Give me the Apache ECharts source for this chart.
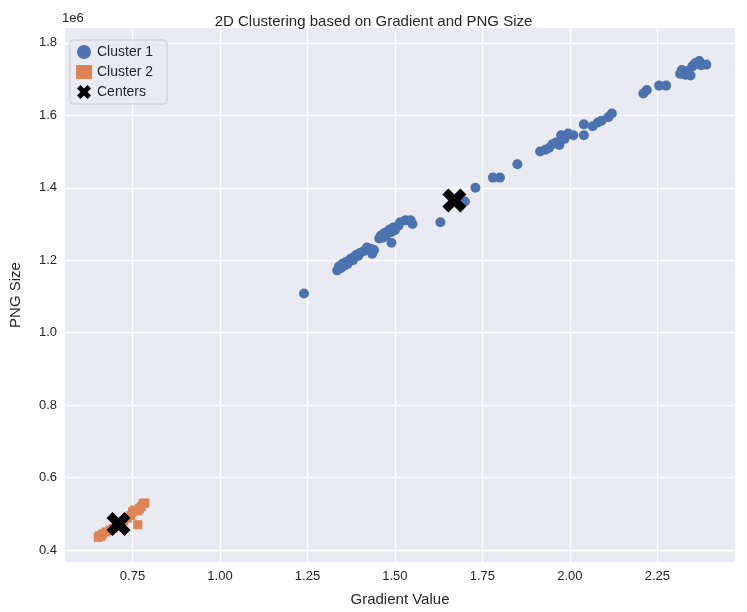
<!DOCTYPE html>
<html>
<head>
<meta charset="utf-8">
<script src="https://cdn.jsdelivr.net/npm/echarts@6/dist/echarts.min.js"></script>
<style>html,body{margin:0;padding:0;background:#fff}#chart{width:747px;height:612px}</style>
</head>
<body>
<div id="chart"></div>
<script>
// values, PNG size in units of 1e6
const cluster1 = [
    [1.24, 1.108], [1.335, 1.172], [1.34, 1.183], [1.345, 1.178], [1.35, 1.19], [1.355, 1.185],
    [1.36, 1.195], [1.365, 1.19], [1.37, 1.2], [1.375, 1.205], [1.38, 1.2], [1.385, 1.21],
    [1.39, 1.215], [1.395, 1.212], [1.40, 1.22], [1.41, 1.225], [1.42, 1.235], [1.43, 1.232],
    [1.435, 1.218], [1.44, 1.228], [1.455, 1.26], [1.46, 1.268], [1.465, 1.262], [1.47, 1.275],
    [1.475, 1.27], [1.48, 1.28], [1.485, 1.285], [1.49, 1.248], [1.49, 1.278], [1.495, 1.29],
    [1.50, 1.283], [1.51, 1.295], [1.515, 1.305], [1.53, 1.31], [1.545, 1.31], [1.55, 1.3],
    [1.63, 1.305], [1.70, 1.362], [1.73, 1.40], [1.78, 1.428], [1.80, 1.428], [1.85, 1.465],
    [1.915, 1.50], [1.93, 1.505], [1.94, 1.51], [1.95, 1.52], [1.96, 1.525], [1.97, 1.518],
    [1.975, 1.545], [1.985, 1.535], [1.995, 1.55], [2.01, 1.545], [2.04, 1.545], [2.04, 1.575],
    [2.065, 1.57], [2.08, 1.58], [2.09, 1.585], [2.11, 1.595], [2.12, 1.605],
    [2.21, 1.66], [2.22, 1.67], [2.255, 1.682], [2.275, 1.682],
    [2.315, 1.715], [2.32, 1.725], [2.33, 1.712], [2.335, 1.722], [2.345, 1.71], [2.35, 1.735],
    [2.355, 1.74], [2.36, 1.745], [2.37, 1.75], [2.375, 1.738], [2.39, 1.74]
];
const cluster2 = [
    [0.652, 0.435], [0.655, 0.44], [0.665, 0.445], [0.675, 0.45], [0.685, 0.455], [0.695, 0.46],
    [0.705, 0.465], [0.715, 0.472], [0.725, 0.48], [0.735, 0.488], [0.745, 0.495], [0.75, 0.505],
    [0.755, 0.51], [0.765, 0.508], [0.77, 0.515], [0.775, 0.52], [0.78, 0.528], [0.785, 0.53],
    [0.765, 0.47], [0.66, 0.438]
];
const centers = [[0.71, 0.472], [1.67, 1.365]];
const xTicks = [0.75, 1.0, 1.25, 1.5, 1.75, 2.0, 2.25];
const yTicks = [0.4, 0.6, 0.8, 1.0, 1.2, 1.4, 1.6, 1.8];

const font = 'Liberation Sans';
const xPath = 'path://M2.5,0 L5,2.5 L7.5,0 L10,2.5 L7.5,5 L10,7.5 L7.5,10 L5,7.5 L2.5,10 L0,7.5 L2.5,5 L0,2.5 Z';
const chart = echarts.init(document.getElementById('chart'));
chart.setOption({
    backgroundColor: '#fff',
    animation: false,
    textStyle: {fontFamily: font},
    title: {
        text: '2D Clustering based on Gradient and PNG Size',
        left: 'center', top: 9,
        textStyle: {fontSize: 15, fontWeight: 'normal', color: '#262626', fontFamily: font}
    },
    grid: {left: 62, right: 12, top: 28, bottom: 50, show: true, backgroundColor: '#eaeaf2', borderWidth: 0},
    legend: {
        left: 70, top: 40, orient: 'vertical', itemGap: 6, itemWidth: 16, itemHeight: 14,
        backgroundColor: 'rgba(234,234,242,0.8)', borderColor: '#cccccc', borderWidth: 1, borderRadius: 3,
        padding: [5, 14, 5, 6],
        textStyle: {fontSize: 14, color: '#262626', fontFamily: font},
        data: [
            {name: 'Cluster 1', icon: 'circle', itemStyle: {}},
            {name: 'Cluster 2', icon: 'rect'},
            {name: 'Centers', icon: xPath}
        ]
    },
    xAxis: {
        type: 'value', min: 0.557, max: 2.472,
        name: 'Gradient Value', nameLocation: 'middle', nameGap: 30,
        nameTextStyle: {fontSize: 15, color: '#262626', fontFamily: font},
        axisLine: {show: false},
        axisTick: {show: false, customValues: xTicks},
        axisLabel: {customValues: xTicks, fontSize: 13, color: '#262626', fontFamily: font, formatter: v => v.toFixed(2)},
        splitLine: {show: true, lineStyle: {color: '#fff', width: 1.3}}
    },
    yAxis: {
        type: 'value', min: 0.367, max: 1.841,
        name: 'PNG Size', nameLocation: 'middle', nameGap: 42,
        nameTextStyle: {fontSize: 15, color: '#262626', fontFamily: font},
        axisLine: {show: false},
        axisTick: {show: false, customValues: yTicks},
        axisLabel: {customValues: yTicks, fontSize: 13, color: '#262626', fontFamily: font, formatter: v => v.toFixed(1)},
        splitLine: {show: true, lineStyle: {color: '#fff', width: 1.3}}
    },
    graphic: [{type: 'text', left: 62, top: 12, style: {text: '1e6', fontSize: 13, fill: '#262626', fontFamily: font}}],
    series: [
        {name: 'Cluster 1', type: 'scatter', data: cluster1, symbol: 'circle', symbolSize: 10, itemStyle: {color: '#4c72b0', opacity: 1}},
        {name: 'Cluster 2', type: 'scatter', data: cluster2, symbol: 'rect', symbolSize: 9, itemStyle: {color: '#dd8452', opacity: 1}},
        {name: 'Centers', type: 'scatter', data: centers, symbolSize: 24, z: 5, symbol: xPath,
            itemStyle: {color: '#000000', opacity: 1}}
    ]
});
</script>
</body>
</html>
